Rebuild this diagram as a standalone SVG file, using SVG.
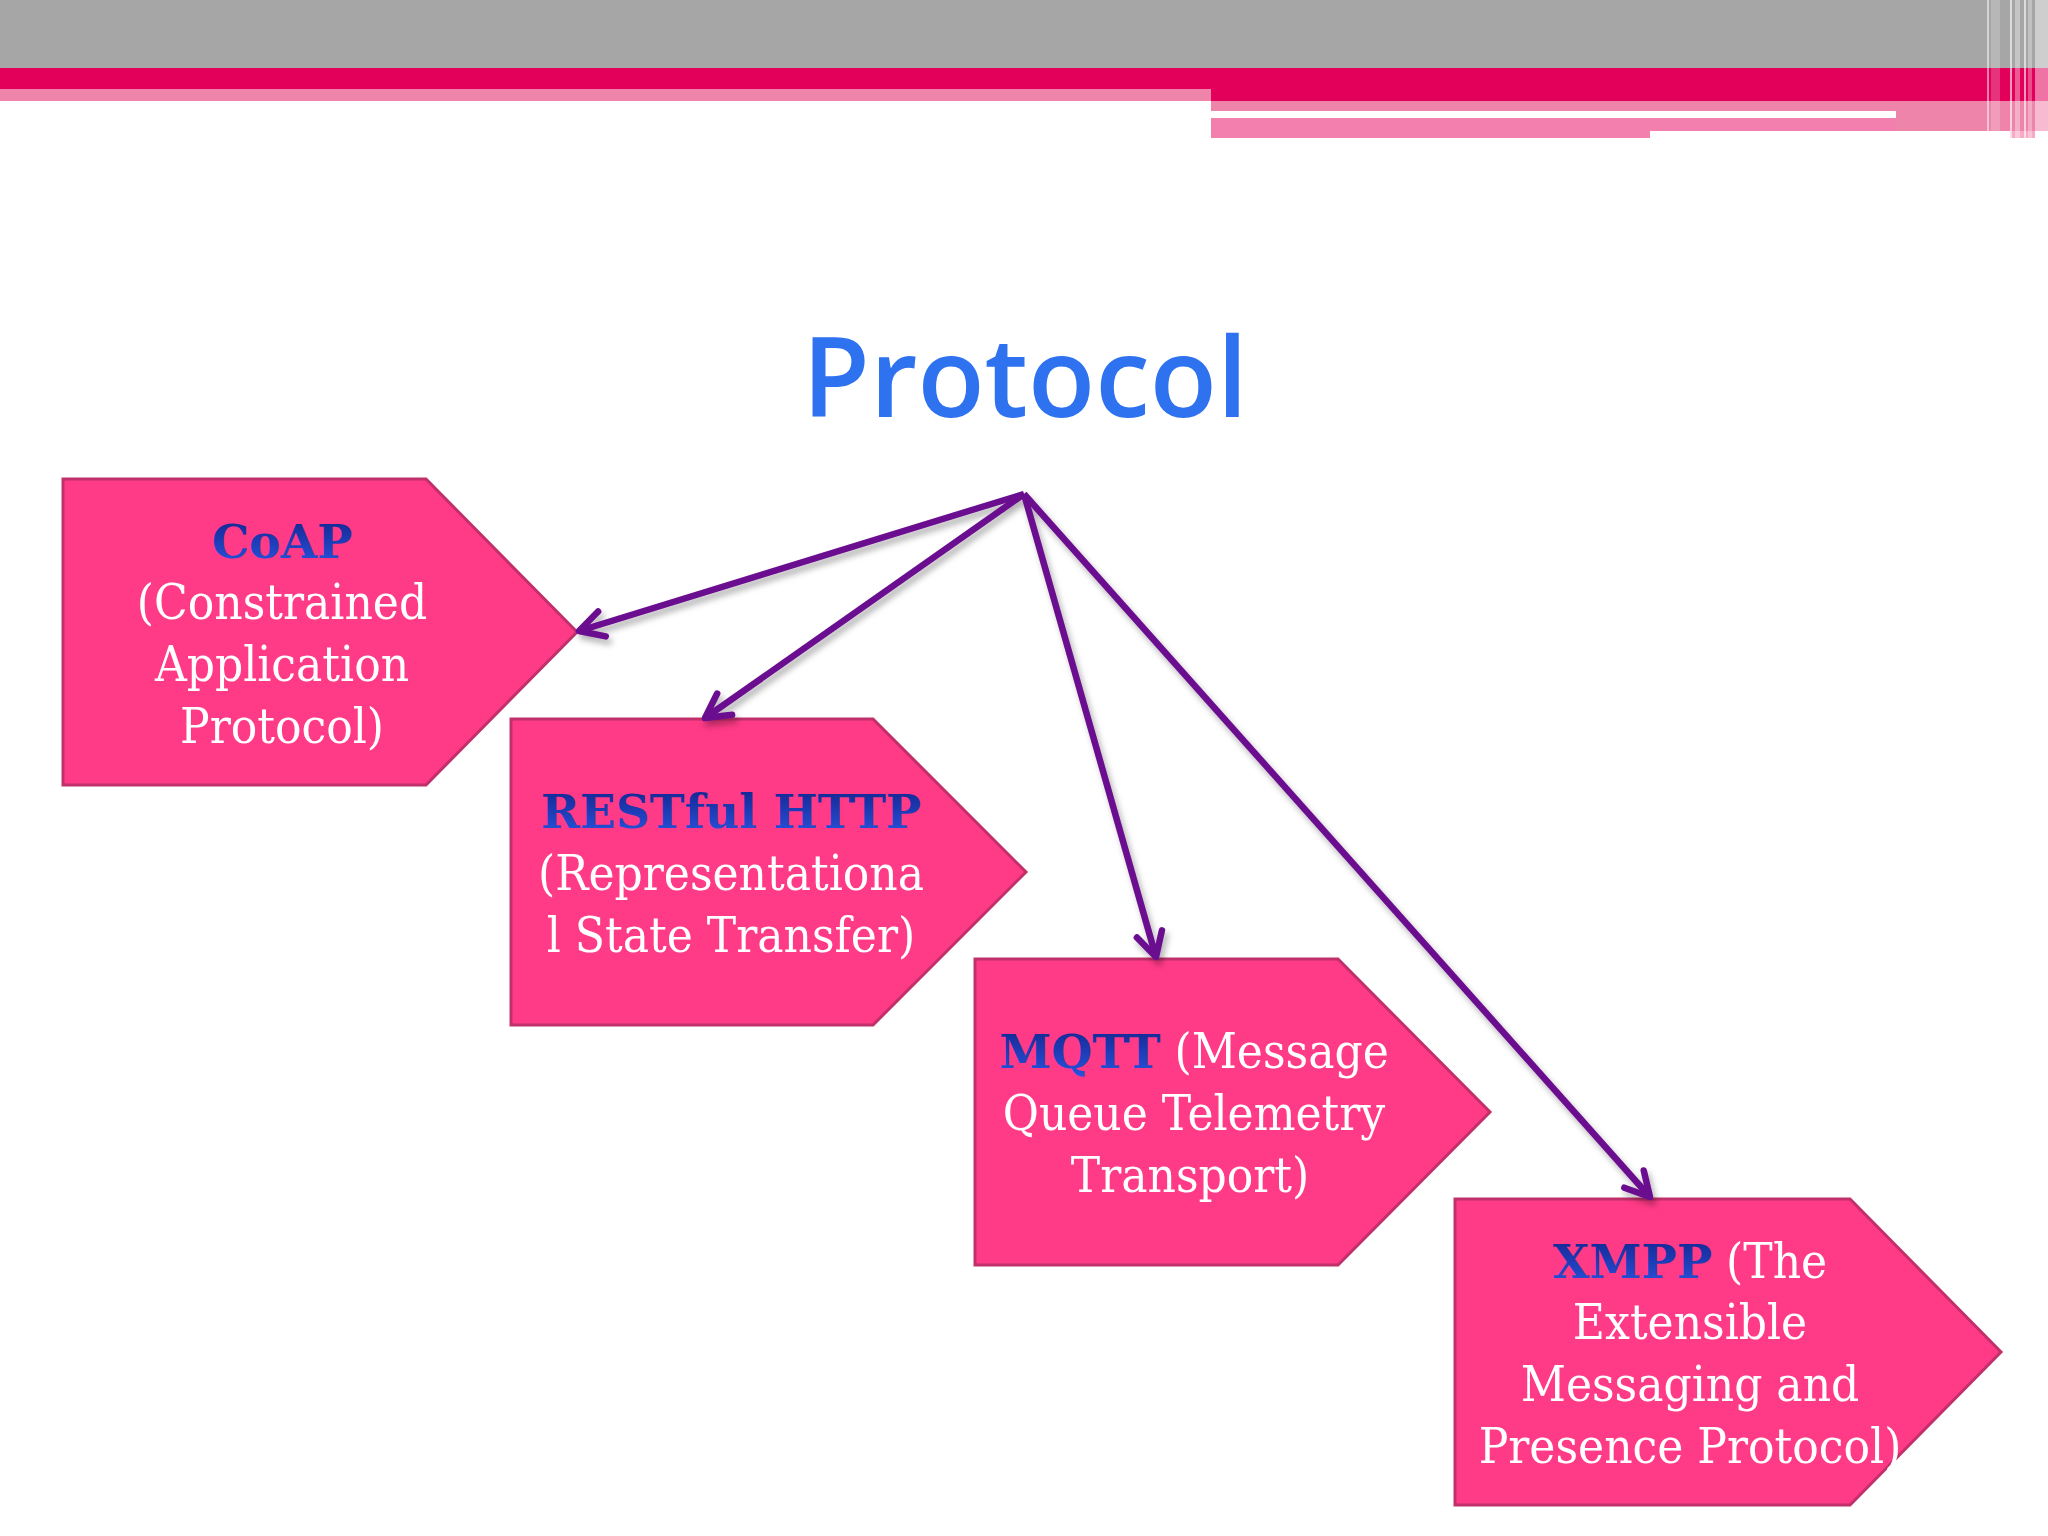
<svg xmlns="http://www.w3.org/2000/svg" width="2048" height="1536" viewBox="0 0 2048 1536">
  <style>
    .node { fill: #FF3A87; stroke: #C2306B; stroke-width: 3; }
    .lbl { font-family: 'DejaVu Serif Condensed', 'DejaVu Serif', serif; font-stretch: condensed; font-size: 49px; fill: #FFFFFF; text-anchor: middle; }
    .kw { font-family: 'DejaVu Serif', serif; font-stretch: normal; font-weight: bold; font-size: 47px; fill: url(#blueGrad); }
    .title { font-family: 'Open Sans', 'Liberation Sans', sans-serif; font-weight: 600; font-size: 110px; fill: #2E72F0; text-anchor: middle; }
    .conn { stroke: #6A0A8F; stroke-width: 6.5; fill: none; marker-end: url(#arrow); }
  </style>
  <defs>
    <linearGradient id="blueGrad" x1="0" y1="0" x2="0" y2="1">
      <stop offset="0" stop-color="#12228A"/>
      <stop offset="1" stop-color="#2A56E2"/>
    </linearGradient>
    <marker id="arrow" markerUnits="userSpaceOnUse" markerWidth="36" markerHeight="36" viewBox="0 0 36 36" refX="32" refY="18" orient="auto">
      <path d="M8,5 L32,18 L8,31" fill="none" stroke="#6A0A8F" stroke-width="6.5" stroke-linecap="round" stroke-linejoin="round"/>
    </marker>
    <filter id="shadow" x="-10%" y="-10%" width="130%" height="130%">
      <feDropShadow dx="3" dy="5" stdDeviation="3" flood-color="#000000" flood-opacity="0.3"/>
    </filter>
  </defs>

  <rect width="2048" height="1536" fill="#FFFFFF"/>

  <g id="header">
    <rect x="0" y="0" width="2048" height="68" fill="#A6A6A6"/>
    <rect x="0" y="68" width="2048" height="33" fill="#E2005A"/>
    <rect x="0" y="89" width="1211" height="12" fill="#EF84AB"/>
    <rect x="1211" y="101" width="685" height="10" fill="#EF84AB"/>
    <rect x="1211" y="118" width="685" height="13" fill="#F27FAE"/>
    <rect x="1211" y="131" width="439" height="7" fill="#F27FAE"/>
    <rect x="1896" y="101" width="152" height="30" fill="#EF84AB"/>
    <rect x="2010" y="131" width="25" height="7" fill="#F7A9C8"/>
    <rect x="1987" y="0" width="2" height="131" fill="#FFFFFF" opacity="0.5"/>
    <rect x="1991" y="0" width="9" height="131" fill="#FFFFFF" opacity="0.2"/>
    <rect x="2010" y="0" width="2" height="138" fill="#FFFFFF" opacity="0.6"/>
    <rect x="2015" y="0" width="5" height="138" fill="#FFFFFF" opacity="0.35"/>
    <rect x="2024" y="0" width="2" height="138" fill="#FFFFFF" opacity="0.6"/>
    <rect x="2028" y="0" width="4" height="138" fill="#FFFFFF" opacity="0.3"/>
    <rect x="2035" y="0" width="13" height="131" fill="#FFFFFF" opacity="0.45"/>
  </g>

  <g id="title">
    <text class="title" x="1025" y="417">Protocol</text>
  </g>

  <g id="node-coap">
    <polygon class="node" points="63,479 426,479 577,632 426,785 63,785"/>
    <text class="lbl" x="282" y="558"><tspan class="kw">CoAP</tspan></text>
    <text class="lbl" x="282" y="619">(Constrained</text>
    <text class="lbl" x="282" y="681">Application</text>
    <text class="lbl" x="282" y="743">Protocol)</text>
  </g>

  <g id="node-restful">
    <polygon class="node" points="511,719 873,719 1026,872 873,1025 511,1025"/>
    <text class="lbl" x="731" y="828"><tspan class="kw">RESTful HTTP</tspan></text>
    <text class="lbl" x="731" y="890">(Representationa</text>
    <text class="lbl" x="731" y="952">l State Transfer)</text>
  </g>

  <g id="node-mqtt">
    <polygon class="node" points="975,959 1338,959 1490,1112 1338,1265 975,1265"/>
    <text class="lbl" x="1194" y="1068"><tspan class="kw">MQTT</tspan> (Message</text>
    <text class="lbl" x="1194" y="1130">Queue Telemetry</text>
    <text class="lbl" x="1190" y="1192">Transport)</text>
  </g>

  <g id="node-xmpp">
    <polygon class="node" points="1455,1199 1850,1199 2001,1352 1850,1505 1455,1505"/>
    <text class="lbl" x="1690" y="1278"><tspan class="kw">XMPP</tspan> (The</text>
    <text class="lbl" x="1690" y="1339">Extensible</text>
    <text class="lbl" x="1690" y="1401">Messaging and</text>
    <text class="lbl" x="1690" y="1463">Presence Protocol)</text>
  </g>

  <g id="connectors" filter="url(#shadow)">
    <line class="conn" x1="1024" y1="494" x2="579" y2="631"/>
    <line class="conn" x1="1024" y1="494" x2="705" y2="718"/>
    <line class="conn" x1="1024" y1="494" x2="1156" y2="957"/>
    <line class="conn" x1="1024" y1="494" x2="1650" y2="1197"/>
  </g>
</svg>
